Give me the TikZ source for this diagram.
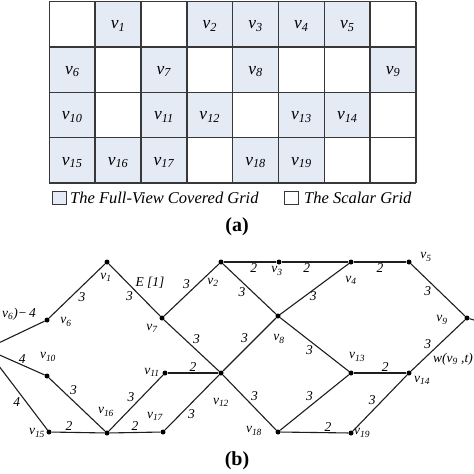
\documentclass[tikz,border=0pt]{standalone}
\usepackage{fontspec}
\setmainfont{Liberation Serif}
\definecolor{fvc}{HTML}{E5EBF5}
\definecolor{gridc}{HTML}{383838}
\definecolor{edgec}{HTML}{1E1E1E}
\usetikzlibrary{positioning}
\newcommand\vv[1]{\textit{v}\textsubscript{\textit{#1}}}
\tikzset{
  gline/.style={draw=gridc,line width=1.4pt},
  glab/.style={font=\fontsize{17.5}{18}\selectfont\itshape,inner sep=0pt},
  legbox/.style={draw=gridc,line width=0.9pt},
  legtxt/.style={font=\fontsize{16.5}{17}\selectfont\itshape,anchor=west,inner sep=0pt},
  subcap/.style={font=\fontsize{20}{20}\selectfont\bfseries,inner sep=0pt},
  dot/.style={circle,fill=black,inner sep=0pt,minimum size=5pt},
  edge/.style={draw=edgec,line width=1.1pt},
  elab/.style={font=\fontsize{13.5}{14}\selectfont\itshape,inner sep=1pt},
  vlab/.style={font=\fontsize{13.5}{14}\selectfont\itshape,inner sep=0pt},
}

\begin{document}
\begin{tikzpicture}[x=1pt,y=-1pt]
\useasboundingbox[fill=white] (0,0) rectangle (474,474);
% (a) grid
\foreach \c/\r/\n in {2/1/1,4/1/2,5/1/3,6/1/4,7/1/5,
                      1/2/6,3/2/7,5/2/8,8/2/9,
                      1/3/10,3/3/11,4/3/12,6/3/13,7/3/14,
                      1/4/15,2/4/16,3/4/17,5/4/18,6/4/19} {
  \fill[fvc] ({49.3+(\c-1)*45.84},{1.5+(\r-1)*45.4}) rectangle ++(45.84,45.4);
  \node[glab] (g\n) at ({49.3+(\c-0.5)*45.84},{1.5+(\r-0.5)*45.4+2}) {\vv{\n}};
}
\foreach \i in {0,...,8} \draw[gline] ({49.3+\i*45.84},1.5) -- ({49.3+\i*45.84},183.1);
\foreach \j in {0,...,4} \draw[gline] (49.3,{1.5+\j*45.4}) -- (416,{1.5+\j*45.4});
\draw[legbox,fill=fvc] (52,191) rectangle (66,204);
\node[legtxt] (lfull) at (70,197.5) {The Full-View Covered Grid};
\draw[legbox,fill=white] (284,191) rectangle (298,204);
\node[legtxt] (lscal) at (304,197.5) {The Scalar Grid};
\node[subcap] (capa) at (237,227) {(a)};
% (b) graph
\foreach \n/\x/\y in {1/107/262,2/221/262,3/279/262,4/351/262,5/409/262,
                      6/47/320,7/162/318,8/278/316,9/467/318,
                      10/47/376,11/165/373,12/221/373,13/351/373,14/409/373,
                      15/49/432,16/107/433,17/163/432,18/278/432,19/351/433}
  \node[dot] (v\n) at (\x,\y) {};
\coordinate (v0) at (-14,349);
\coordinate (vt) at (520,333);
\foreach \n/\x/\y in {1/106/277,2/213/282,3/277/271,4/351/280,5/426/257,
                      6/66/322,7/152/328,8/279/339,9/442/320,
                      10/48/357,11/152/372,12/221/402,13/357/357,14/422/380,
                      15/37/433,16/106/412,17/155/416,18/254/431,19/362/433}
  \node[vlab] (l\n) at (\x,\y) {\vv{\n}};
\foreach \u/\v/\w/\q/\a in {v0/v10/4/.62/south,v0/v15/4/.58/north east,
    v6/v1/3/.5/north west,v7/v2/3/.5/south east,v7/v12/3/.5/south west,
    v10/v16/3/.35/south west,v15/v16/2/.33/south,v16/v11/3/.5/south east,
    v16/v17/2/.5/south,v11/v12/2/.5/south,v17/v12/3/.4/north west,
    v2/v3/2/.57/north,v3/v4/2/.375/north,v4/v5/2/.5/north,
    v2/v8/3/.45/north east,v8/v4/3/.48/north,v12/v8/3/.5/south east,
    v8/v13/3/.5/north east,v12/v18/3/.5/south west,v18/v13/3/.5/south east,
    v18/v19/2/.7/south,v13/v14/2/.6/south,v19/v14/3/.45/south east,
    v5/v9/3/.4/north east}
  \draw[edge] (\u) -- node[elab,pos=\q,anchor=\a] (e\u\v) {\w} (\v);
\draw[edge] (v0) -- node[elab,pos=.88,anchor=south east,yshift=3pt] (ev0v6) {\vv{6})−\,4} (v6);
\draw[edge] (v1) -- node[elab,anchor=north east] (ev1v7) {3}
  node[elab,pos=.49,anchor=south west] (ename) {E [1]} (v7);
\draw[edge] (v14) -- node[elab,pos=.4,anchor=south east] (ev14v9) {3}
  node[elab,pos=.38,anchor=north west] (ewt) {w(\vv{9} ,t)} (v9);
\draw[edge] (v9) -- (vt);
\node[subcap] (capb) at (237,461) {(b)};
\end{tikzpicture}
\end{document}
